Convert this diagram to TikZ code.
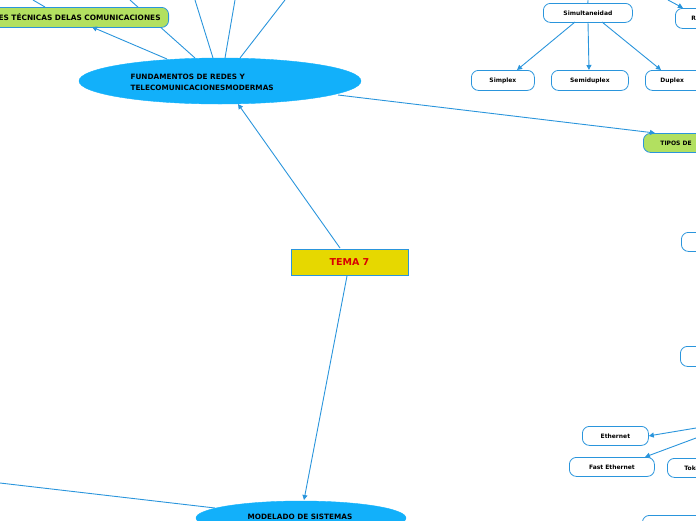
\documentclass[tikz,border=0pt]{standalone}
\usepackage{fontspec}
\setmainfont{DejaVu Sans}
\usetikzlibrary{arrows.meta,shapes.geometric}
\definecolor{ln}{HTML}{2A95DC}
\definecolor{ell}{HTML}{12B0FA}
\definecolor{grn}{HTML}{B2E060}
\definecolor{yel}{HTML}{E6D800}
\tikzset{
  con/.style={draw=ln,line width=0.9pt},
  arr/.style={con,-{Triangle[length=5pt,width=5pt]}},
  pill/.style={draw=ln,line width=0.8pt,rounded corners=7pt,fill=white,font=\bfseries\fontsize{6}{7}\selectfont,inner sep=0pt,anchor=north west},
  gpill/.style={pill,fill=grn},
  ellip/.style={ellipse,fill=ell,draw=ell},
}
\begin{document}
\begin{tikzpicture}[x=1pt,y=-1pt]
\useasboundingbox (0,0) rectangle (696,520);
\clip (0,0) rectangle (696,520);
\node[pill,minimum width=89pt,minimum height=19pt] (sim) at (543,3) {Simultaneidad};
\node[pill,minimum width=63pt,minimum height=20pt] (spx) at (471,70) {Simplex};
\node[pill,minimum width=77pt,minimum height=20pt] (sdx) at (551,70) {Semiduplex};
\node[pill,minimum width=70pt,minimum height=20pt,text width=60pt,align=left] (dpx) at (645,70) {\hspace*{10pt}Duplex};
\node[pill,minimum width=40pt,minimum height=20pt,text width=30pt,align=left] (rr) at (675,8) {\hspace*{11pt}R};
\node[gpill,minimum width=70pt,minimum height=19pt,text width=60pt,align=left] (tip) at (643,133) {\hspace*{12pt}TIPOS DE};
\node[pill,minimum width=30pt,minimum height=19pt] (e1) at (681,232) {};
\node[pill,minimum width=30pt,minimum height=20pt] (e2) at (680,346) {};
\node[pill,minimum width=66pt,minimum height=19pt] (eth) at (582,426) {Ethernet};
\node[pill,minimum width=85pt,minimum height=19pt] (feth) at (569,457) {Fast Ethernet};
\node[pill,minimum width=50pt,minimum height=19pt,text width=40pt,align=left] (tok) at (667,458) {\hspace*{12pt}Token};
\node[pill,minimum width=70pt,minimum height=20pt] (e3) at (642,515) {};
\coordinate (t1) at (130,0); \coordinate (t2) at (195,0); \coordinate (t3) at (235,0); \coordinate (t4) at (285,0);
\coordinate (t5) at (33,0); \coordinate (t6) at (588,0); \coordinate (t7) at (668,0);
\coordinate (r1) at (696,428); \coordinate (r2) at (696,438); \coordinate (l1) at (0,483);
\draw[con] (195,58) -- (t1);
\node[gpill,minimum width=260pt,minimum height=20pt,anchor=north east,align=right,text width=244pt,font=\bfseries\fontsize{7.4}{8}\selectfont] (bas) at (169,7) {BASES TÉCNICAS DELAS COMUNICACIONES};
\draw[con] (213,58) -- (t2);
\draw[con] (225,58) -- (t3);
\draw[con] (240,58) -- (t4);
\draw[con] (t5) -- (45,7);
\draw[con] (t6) -- (sim.north);
\draw[arr] (t7) -- (683,8);
\draw[arr] (575,22) -- (517,70);
\draw[arr] (588,22) -- (589,70);
\draw[arr] (602,22) -- (661,70);
\draw[arr] (r1) -- (eth.east);
\draw[arr] (r2) -- (645,457);
\draw[con] (l1) -- (215,508);
\node[ellip,minimum width=282pt,minimum height=46pt] (fun) at (220,81) {};
\node[anchor=west,align=left,font=\bfseries\fontsize{7.3}{11}\selectfont] at (127,82) {FUNDAMENTOS DE REDES Y\\TELECOMUNICACIONESMODERMAS};
\node[ellip,minimum width=210pt,minimum height=34pt] (mod) at (301,518) {};
\node[font=\bfseries\fontsize{7.3}{8}\selectfont] at (300,517) {MODELADO DE SISTEMAS};
\node[draw=ln,fill=yel,minimum width=117pt,minimum height=26pt,inner sep=0pt,font=\bfseries\fontsize{9.5}{10}\selectfont,text=red!85!black] (tema) at (349.5,262) {TEMA 7};
\draw[arr] (167,59) -- (92,27);
\draw[arr] (338,95) -- (655,133);
\draw[arr] (340,248) -- (238,104);
\draw[arr] (347,276) -- (304,500);
\end{tikzpicture}
\end{document}
